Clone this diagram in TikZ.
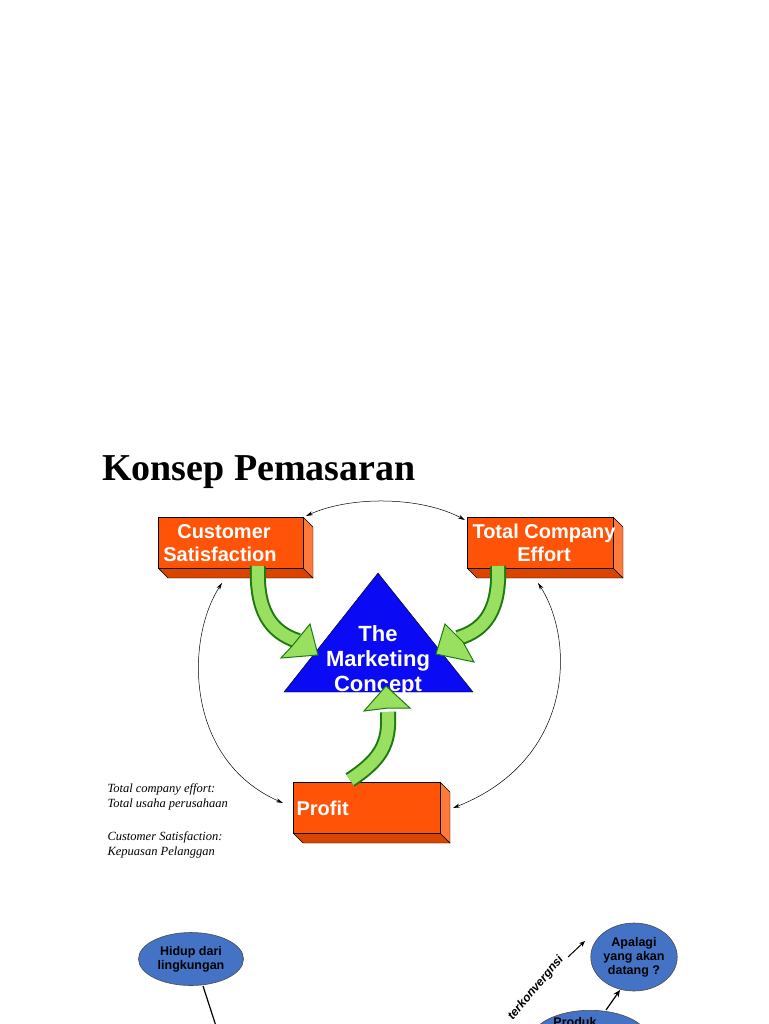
\documentclass[tikz,border=0pt]{standalone}
\usepackage{fontspec}
\setmainfont{Liberation Serif}
\setsansfont{Liberation Sans}
\newfontfamily\sansfont{Liberation Sans}
\usetikzlibrary{arrows.meta,calc,shapes.geometric}
\definecolor{boxfront}{HTML}{FF5308}
\definecolor{boxside}{HTML}{FF7A3A}
\definecolor{boxbottom}{HTML}{D94400}
\definecolor{lgreen}{HTML}{99E060}
\definecolor{dgreen}{HTML}{1E7A10}
\definecolor{tblue}{HTML}{0A0AF5}
\definecolor{eblue}{HTML}{4472C4}
\tikzset{
 boxtxt/.style={text=white,font=\sansfont\bfseries\fontsize{20}{23.5}\selectfont,align=center},
 thin arc/.style={draw=black,line width=0.5pt,{Stealth[length=7pt,width=4pt]}-{Stealth[length=7pt,width=4pt]}},
 blob/.style={ellipse,fill=eblue,draw=black!70,line width=0.6pt,font=\sansfont\bfseries\fontsize{12.5}{14}\selectfont,align=center,inner sep=0pt},
 note/.style={font=\itshape\fontsize{12.5}{15}\selectfont,anchor=west,align=left},
}
\newcommand{\boxthree}[5]{% x1 y1 x2 y2 name
 \fill[boxbottom,draw=black,line width=0.4pt] (#1,#4) -- (#3,#4) -- (#3+10,#4+10) -- (#1+10,#4+10) -- cycle;
 \fill[boxside,draw=black,line width=0.4pt] (#3,#2) -- (#3+10,#2+10) -- (#3+10,#4+10) -- (#3,#4) -- cycle;
 \fill[boxfront,draw=black,line width=0.4pt] (#1,#2) rectangle (#3,#4);
 \coordinate (#5) at ($(#1,#2)!0.5!(#3,#4)$);
}
\newcommand{\greenarrow}[8]{%
 \draw[dgreen,line width=16pt] #1 .. controls #2 and #3 .. #4;
 \draw[lgreen,line width=12pt] #1 .. controls #2 and #3 .. #4;
 \fill[lgreen,draw=dgreen,line width=1pt] #5 -- #6 -- #7 -- #8 -- cycle;
}
\begin{document}
\begin{tikzpicture}[x=1pt,y=-1pt]
\useasboundingbox (0,0) rectangle (768,1024);
\node[anchor=base west,inner sep=0pt,font=\bfseries\fontsize{38}{40}\selectfont] (title) at (102,480) {Konsep Pemasaran};

% triangle
\fill[tblue,draw=black,line width=0.4pt] (378,573) -- (473,692) -- (284,692) -- cycle;
\begin{scope}
\clip (378,573) -- (473,692) -- (284,692) -- cycle;
\node[boxtxt,font=\sansfont\bfseries\fontsize{22}{25}\selectfont] (mc) at (378,661) {The\\Marketing\\Concept};
\end{scope}

% boxes
\boxthree{158}{517}{303}{568}{cs}
\node[boxtxt] at (220,543) {\hspace*{8pt}Customer\\Satisfaction};
\boxthree{467}{517}{613}{568}{tce}
\node[boxtxt] at (544,543) {Total Company\\Effort};
\boxthree{293}{782}{440}{833}{pr}
\node[boxtxt,anchor=west] at (293,808) {Profit};

% green arrows
\greenarrow{(258,566)}{(256,610)}{(270,632)}{(298,641)}{(293,645)}{(310,624)}{(318,655)}{(281,658)}
\greenarrow{(498,566)}{(500,610)}{(485,630)}{(458,638)}{(463,642)}{(445,624)}{(436,654)}{(474,662)}
\greenarrow{(350,780)}{(380,760)}{(390,745)}{(388,712)}{(388,708)}{(364,711)}{(386,686)}{(410,708)}

% thin arcs
\coordinate (a1) at (306,516);
\coordinate (a2) at (465,520);
\draw[thin arc] (a1) .. controls (350,496) and (420,496) .. (a2);
\coordinate (l1) at (283,803);
\coordinate (l2) at (222,583);
\draw[thin arc] (l1) .. controls (185,760) and (185,640) .. (l2);
\coordinate (r1) at (453,808);
\coordinate (r2) at (538,583);
\draw[thin arc] (r1) .. controls (575,760) and (575,640) .. (r2);

% notes
\node[note] (n1) at (104,797) {Total company effort:\\Total usaha perusahaan};
\node[note] (n2) at (104,845) {Customer Satisfaction:\\Kepuasan Pelanggan};

% bottom diagram
\node[blob,minimum width=105pt,minimum height=53pt] (hd) at (191,959) {Hidup dari\\lingkungan};
\coordinate (hdtop) at (203,986);
\coordinate (hdend) at (216,1026);
\draw[line width=1.2pt] (hdtop) -- (hdend);
\node[blob,minimum width=76pt,minimum height=68pt] (ap) at (634,957) {Apalagi\\yang akan\\datang ?};
\node[blob,minimum width=118pt,minimum height=60pt,anchor=north] (pd) at (590,1010) {};
\node[font=\sansfont\bfseries\fontsize{12.5}{14}\selectfont,anchor=north] (pdt) at (575,1014) {Produk};
\coordinate (pdtop) at (606,1010);
\coordinate (aptarget) at (620,990);
\draw[line width=1.2pt,-{Stealth[length=7pt,width=6pt]}] (pdtop) -- (aptarget);
\node[rotate=50,font=\sansfont\bfseries\itshape\fontsize{12}{14}\selectfont] (tk) at (536,988) {terkonvergnsi};
\coordinate (tkstart) at (568,957);
\coordinate (tkend) at (585,941);
\draw[line width=1pt,-{Stealth[length=6pt,width=5pt]}] (tkstart) -- (tkend);
\end{tikzpicture}
\end{document}
